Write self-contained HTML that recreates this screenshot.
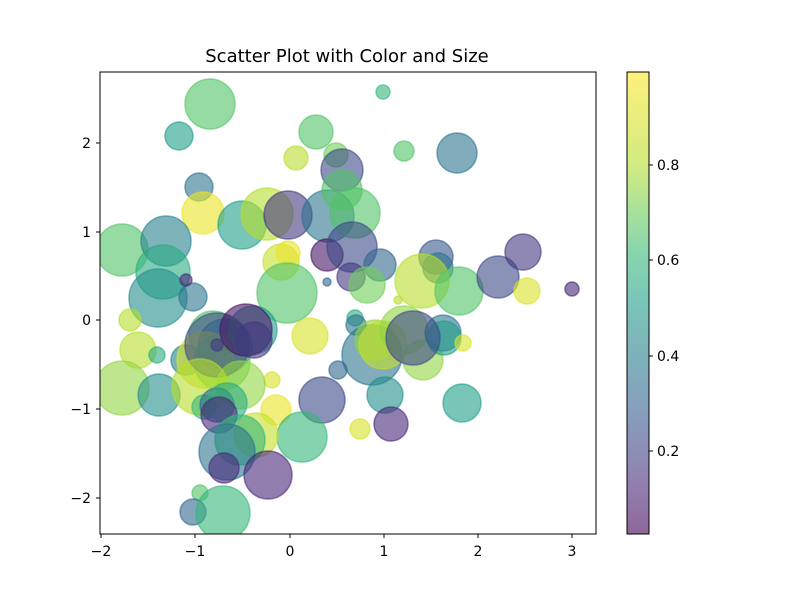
<!DOCTYPE html>
<html><head><meta charset="utf-8"><style>
body{margin:0;background:#fff;}
svg{display:block;font-family:"DejaVu Sans","Liberation Sans",sans-serif;}
</style></head><body>
<svg width="799" height="600" viewBox="0 0 799 600" xmlns="http://www.w3.org/2000/svg">
<defs>
<linearGradient id="vir" x1="0" y1="1" x2="0" y2="0">
<stop offset="0" stop-color="#440154"/><stop offset="0.1" stop-color="#482878"/><stop offset="0.2" stop-color="#3e4989"/><stop offset="0.3" stop-color="#31688e"/><stop offset="0.4" stop-color="#26828e"/><stop offset="0.5" stop-color="#1f9e89"/><stop offset="0.6" stop-color="#35b779"/><stop offset="0.7" stop-color="#6ece58"/><stop offset="0.8" stop-color="#b5de2b"/><stop offset="1" stop-color="#fde725"/>
</linearGradient>
<clipPath id="cp"><rect x="100" y="72" width="496" height="462"/></clipPath>
</defs>
<text x="347" y="62" font-size="18" text-anchor="middle">Scatter Plot with Color and Size</text>
<g clip-path="url(#cp)" fill-opacity="0.6" stroke-opacity="0.6" stroke-width="1.5">
<g id="c"></g>
</g>
<rect x="100" y="72" width="496" height="462" fill="none" stroke="#000" stroke-width="1"/>
<g font-size="14" text-anchor="middle">
<line x1="101" y1="534" x2="101" y2="538" stroke="#000"/><text x="101" y="556">−2</text>
<line x1="195" y1="534" x2="195" y2="538" stroke="#000"/><text x="195" y="556">−1</text>
<line x1="290" y1="534" x2="290" y2="538" stroke="#000"/><text x="290" y="556">0</text>
<line x1="384" y1="534" x2="384" y2="538" stroke="#000"/><text x="384" y="556">1</text>
<line x1="478" y1="534" x2="478" y2="538" stroke="#000"/><text x="478" y="556">2</text>
<line x1="572" y1="534" x2="572" y2="538" stroke="#000"/><text x="572" y="556">3</text>
</g>
<g font-size="14" text-anchor="end">
<line x1="96" y1="143" x2="100" y2="143" stroke="#000"/><text x="91" y="148">2</text>
<line x1="96" y1="232" x2="100" y2="232" stroke="#000"/><text x="91" y="237">1</text>
<line x1="96" y1="320" x2="100" y2="320" stroke="#000"/><text x="91" y="325">0</text>
<line x1="96" y1="409" x2="100" y2="409" stroke="#000"/><text x="91" y="414">−1</text>
<line x1="96" y1="498" x2="100" y2="498" stroke="#000"/><text x="91" y="503">−2</text>
</g>
<rect x="627" y="72" width="22" height="462" fill="url(#vir)" fill-opacity="0.6"/>
<rect x="627" y="72" width="22" height="462" fill="none" stroke="#000"/>
<g font-size="14">
<line x1="649" y1="451" x2="653" y2="451" stroke="#000"/><text x="657" y="456">0.2</text>
<line x1="649" y1="356" x2="653" y2="356" stroke="#000"/><text x="657" y="361">0.4</text>
<line x1="649" y1="260" x2="653" y2="260" stroke="#000"/><text x="657" y="265">0.6</text>
<line x1="649" y1="165" x2="653" y2="165" stroke="#000"/><text x="657" y="170">0.8</text>
</g>
</svg>
<script>
var stops=[[0,[68,1,84]],[0.1,[72,40,120]],[0.2,[62,73,137]],[0.3,[49,104,142]],[0.4,[38,130,142]],[0.5,[31,158,137]],[0.6,[53,183,121]],[0.7,[110,206,88]],[0.8,[181,222,43]],[1,[253,231,37]]];
function col(v){for(var i=1;i<stops.length;i++){if(v<=stops[i][0]){var a=stops[i-1],b=stops[i],t=(v-a[0])/(b[0]-a[0]);return 'rgb('+a[1].map(function(x,k){return Math.round(x+(b[1][k]-x)*t)}).join(',')+')';}}return 'rgb(253,231,37)';}
var d=[[210,104,25,.65],[179,136,14,.5],[316,132,17,.65],[296,158,12,.8],[336,155,12,.7],[342,170,21,.2],[383,92,7,.6],[404,151,10,.65],[457,153,20,.35],[199,187,14,.35],[203,213,21,.95],[242,225,24,.5],[267,214,26,.8],[288,215,24,.15],[328,216,26,.35],[342,190,20,.65],[355,213,25,.65],[122,250,26,.65],[166,241,25,.4],[163,272,27,.55],[158,298,29,.45],[193,297,14,.35],[186,280,6,.1],[281,262,18,.85],[288,253,12,.95],[287,293,30,.65],[327,255,16,.05],[352,247,25,.2],[351,277,14,.15],[380,265,16,.3],[367,285,18,.7],[327,282,4,.3],[436,257,17,.25],[438,268,15,.35],[422,281,27,.8],[459,291,24,.65],[498,277,21,.2],[523,252,18,.15],[527,291,13,.9],[572,289,7,.1],[398,300,4,.8],[130,320,11,.8],[355,318,8,.55],[356,325,10,.35],[310,336,18,.9],[372,355,30,.35],[375,340,20,.75],[383,345,24,.85],[404,330,24,.75],[423,360,20,.75],[443,333,18,.35],[444,338,17,.5],[463,343,8,.9],[413,338,27,.2],[138,350,18,.8],[157,355,8,.55],[186,360,15,.4],[213,335,24,.65],[225,346,27,.4],[205,360,28,.9],[222,362,28,.7],[217,345,32,.2],[253,330,24,.5],[246,330,26,.05],[254,340,18,.15],[217,345,6,.15],[272,380,8,.9],[241,385,24,.75],[122,388,27,.75],[159,395,21,.45],[200,387,28,.8],[338,370,9,.3],[322,400,23,.2],[385,395,18,.45],[462,403,19,.5],[276,410,15,.95],[204,407,12,.6],[217,405,17,.3],[227,403,20,.55],[219,415,18,.1],[302,437,25,.6],[360,429,10,.9],[391,424,17,.1],[256,435,22,.85],[240,440,25,.6],[227,452,28,.35],[224,468,15,.1],[268,475,24,.1],[200,493,8,.65],[193,512,13,.3],[223,513,27,.6]];
var g=document.getElementById('c'),s='';
d.forEach(function(c){var k=col(c[3]);s+='<circle cx="'+c[0]+'" cy="'+c[1]+'" r="'+c[2]+'" fill="'+k+'" stroke="'+k+'"/>';});
g.innerHTML=s;
</script>
</body></html>
